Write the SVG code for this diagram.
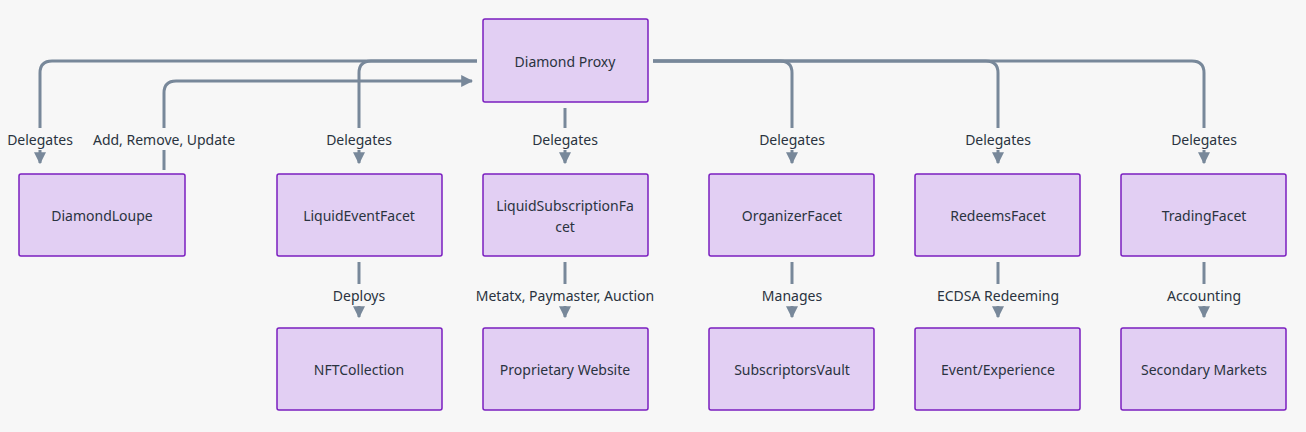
<svg xmlns="http://www.w3.org/2000/svg" width="1306" height="432" viewBox="0 0 1306 432">
<style>
.n rect{fill:#e2cff3;stroke:#7b1fc0;stroke-width:1.5}
text{font-family:"Noto Sans","Liberation Sans",sans-serif;font-size:14px;fill:#2a3340;text-anchor:middle;dominant-baseline:central}
.c path{fill:none;stroke:#78889a;stroke-width:3}
.lb rect{fill:#f7f7f7}
</style>
<defs><marker id="a" viewBox="0 0 10 10" refX="9" refY="5" markerWidth="4" markerHeight="4" orient="auto"><path d="M0,0L10,5L0,10z" fill="#78889a"/></marker></defs>
<rect width="1306" height="432" fill="#f7f7f7"/>
<g class="c">
<path d="M477,61H52Q40,61 40,73V163" marker-end="url(#a)"/>
<path d="M477,61H371Q359,61 359,73V163" marker-end="url(#a)"/>
<path d="M164,170V93Q164,81 176,81H472" marker-end="url(#a)"/>
<path d="M565,108V163" marker-end="url(#a)"/>
<path d="M653,61H780Q792,61 792,73V163" marker-end="url(#a)"/>
<path d="M653,61H986Q998,61 998,73V163" marker-end="url(#a)"/>
<path d="M653,61H1192Q1204,61 1204,73V163" marker-end="url(#a)"/>
<path d="M359,262V317" marker-end="url(#a)"/>
<path d="M565,262V317" marker-end="url(#a)"/>
<path d="M792,262V317" marker-end="url(#a)"/>
<path d="M998,262V317" marker-end="url(#a)"/>
<path d="M1204,262V317" marker-end="url(#a)"/>
</g>
<g class="lb">
<rect x="4" y="128" width="72" height="22"/><text x="40" y="139">Delegates</text>
<rect x="90" y="128" width="148" height="22"/><text x="164" y="139">Add, Remove, Update</text>
<rect x="323" y="128" width="72" height="22"/><text x="359" y="139">Delegates</text>
<rect x="529" y="128" width="72" height="22"/><text x="565" y="139">Delegates</text>
<rect x="756" y="128" width="72" height="22"/><text x="792" y="139">Delegates</text>
<rect x="962" y="128" width="72" height="22"/><text x="998" y="139">Delegates</text>
<rect x="1168" y="128" width="72" height="22"/><text x="1204" y="139">Delegates</text>
<rect x="329" y="284" width="60" height="22"/><text x="359" y="295">Deploys</text>
<rect x="472" y="284" width="186" height="22"/><text x="565" y="295">Metatx, Paymaster, Auction</text>
<rect x="758" y="284" width="68" height="22"/><text x="792" y="295">Manages</text>
<rect x="932" y="284" width="132" height="22"/><text x="998" y="295">ECDSA Redeeming</text>
<rect x="1164" y="284" width="80" height="22"/><text x="1204" y="295">Accounting</text>
</g>
<g id="proxy" class="n"><rect x="483" y="19" width="165" height="83" rx="2"/><text x="565" y="61">Diamond Proxy</text></g>
<g id="loupe" class="n"><rect x="19" y="174" width="166" height="82" rx="2"/><text x="102" y="215">DiamondLoupe</text></g>
<g id="levent" class="n"><rect x="277" y="174" width="165" height="82" rx="2"/><text x="359" y="215">LiquidEventFacet</text></g>
<g id="lsub" class="n"><rect x="483" y="174" width="165" height="82" rx="2"/><text x="565" y="205">LiquidSubscriptionFa</text><text x="565" y="226">cet</text></g>
<g id="org" class="n"><rect x="709" y="174" width="165" height="82" rx="2"/><text x="792" y="215">OrganizerFacet</text></g>
<g id="red" class="n"><rect x="915" y="174" width="165" height="82" rx="2"/><text x="998" y="215">RedeemsFacet</text></g>
<g id="trade" class="n"><rect x="1121" y="174" width="165" height="82" rx="2"/><text x="1204" y="215">TradingFacet</text></g>
<g id="nft" class="n"><rect x="277" y="328" width="165" height="82" rx="2"/><text x="359" y="369">NFTCollection</text></g>
<g id="web" class="n"><rect x="483" y="328" width="165" height="82" rx="2"/><text x="565" y="369">Proprietary Website</text></g>
<g id="vault" class="n"><rect x="709" y="328" width="165" height="82" rx="2"/><text x="792" y="369">SubscriptorsVault</text></g>
<g id="event" class="n"><rect x="915" y="328" width="165" height="82" rx="2"/><text x="998" y="369">Event/Experience</text></g>
<g id="sec" class="n"><rect x="1121" y="328" width="165" height="82" rx="2"/><text x="1204" y="369">Secondary Markets</text></g>
</svg>
